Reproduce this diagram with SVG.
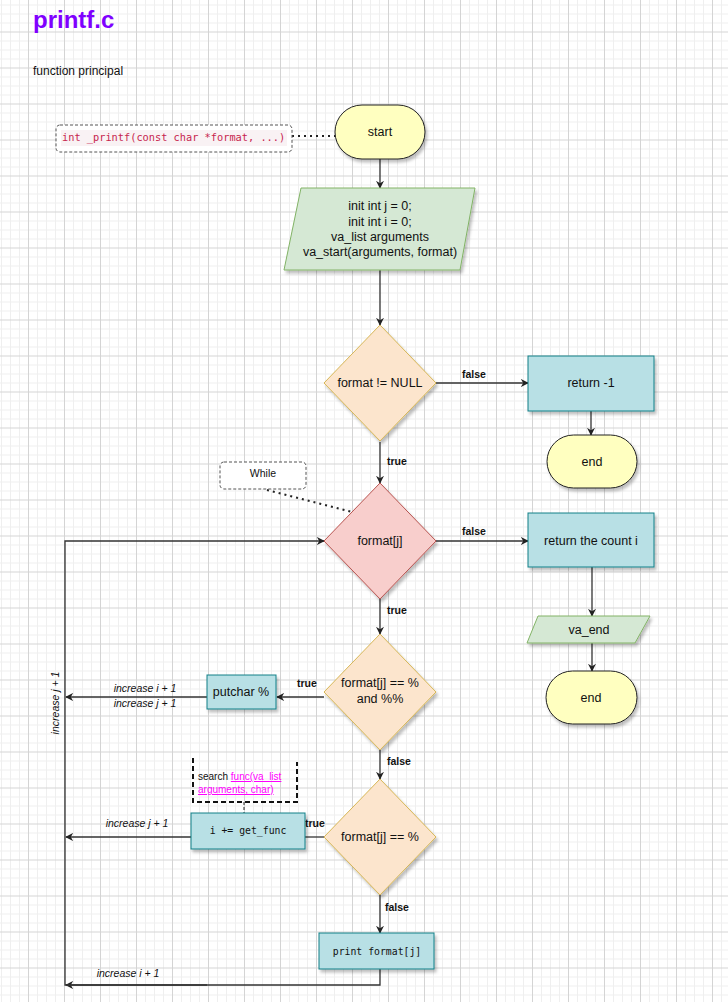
<svg xmlns="http://www.w3.org/2000/svg" width="728" height="1002" viewBox="0 0 728 1002">
<defs>
<pattern id="grid" x="28" y="31.5" width="36" height="36" patternUnits="userSpaceOnUse">
<path d="M9.5,0V36M18.5,0V36M27.5,0V36M0,9.5H36M0,18.5H36M0,27.5H36" stroke="#efefef" stroke-width="1" fill="none"/>
<path d="M0.5,0V36M0,0.5H36" stroke="#d4d4d4" stroke-width="1" fill="none"/>
</pattern>
<marker id="arr" viewBox="0 0 10 10" refX="9" refY="5" markerWidth="8" markerHeight="8" markerUnits="userSpaceOnUse" orient="auto">
<path d="M0,0 L10,5 L0,10 L3,5 z" fill="#222"/>
</marker>
<filter id="sh" x="-20%" y="-20%" width="150%" height="150%">
<feDropShadow dx="2" dy="3" stdDeviation="1.5" flood-color="#000" flood-opacity="0.25"/>
</filter>
<style>
text{font-family:"Liberation Sans",Arial,sans-serif;fill:#111;}
.lbl{font-size:12.5px;text-anchor:middle;}
.mono{font-family:"DejaVu Sans Mono","Liberation Mono",monospace;}
.b{font-size:10.5px;font-weight:bold;}
.it{font-size:10.5px;font-style:italic;}
.edge{stroke:#333;stroke-width:1.3;fill:none;}
.term{fill:#ffffc0;stroke:#222;stroke-width:1;filter:url(#sh);}
.proc{fill:#b8e0e5;stroke:#0e8088;stroke-width:1;filter:url(#sh);}
.io{fill:#d5e8d4;stroke:#82b366;stroke-width:1;filter:url(#sh);}
.dec{fill:#fce5cd;stroke:#d6b656;stroke-width:1;filter:url(#sh);}
.note{fill:#fff;stroke:#555;stroke-width:1;stroke-dasharray:3 2;}
</style>
</defs>
<rect width="728" height="1002" fill="#fff"/>
<rect width="728" height="1002" fill="url(#grid)"/>

<g id="title">
<text x="33" y="28" style="font-size:24px;font-weight:bold;fill:#7f00ff">printf.c</text>
<text x="33" y="75" style="font-size:12px">function principal</text>
</g>

<g id="connectors">
<line class="edge" x1="380" y1="159" x2="380" y2="188" marker-end="url(#arr)"/>
<line class="edge" x1="380" y1="270" x2="380" y2="325" marker-end="url(#arr)"/>
<line class="edge" x1="436" y1="383" x2="528" y2="383" marker-end="url(#arr)"/>
<line class="edge" x1="591" y1="411" x2="591" y2="435" marker-end="url(#arr)"/>
<line class="edge" x1="380" y1="442" x2="380" y2="483" marker-end="url(#arr)"/>
<line class="edge" x1="436" y1="541" x2="528" y2="541" marker-end="url(#arr)"/>
<line class="edge" x1="592" y1="567" x2="592" y2="616" marker-end="url(#arr)"/>
<line class="edge" x1="592" y1="643" x2="592" y2="671" marker-end="url(#arr)"/>
<line class="edge" x1="380" y1="599" x2="380" y2="634" marker-end="url(#arr)"/>
<line class="edge" x1="324" y1="697" x2="277" y2="697" marker-end="url(#arr)"/>
<line class="edge" x1="207" y1="697" x2="66" y2="697" marker-end="url(#arr)"/>
<line class="edge" x1="380" y1="750" x2="380" y2="779" marker-end="url(#arr)"/>
<line class="edge" x1="324" y1="837" x2="305" y2="837"/>
<line class="edge" x1="191" y1="837" x2="66" y2="837" marker-end="url(#arr)"/>
<line class="edge" x1="380" y1="895" x2="380" y2="933" marker-end="url(#arr)"/>
<polyline class="edge" points="380,969 380,985 66,985" marker-end="url(#arr)"/>
<polyline class="edge" points="207,985 65,985 65,541 324,541" marker-end="url(#arr)"/>
<line x1="292" y1="136" x2="335" y2="136" stroke="#222" stroke-width="2" stroke-dasharray="2 4"/>
<line x1="267" y1="490" x2="352" y2="512" stroke="#222" stroke-width="2" stroke-dasharray="2 4"/>
<line x1="244" y1="802" x2="244" y2="813" stroke="#222" stroke-width="1" stroke-dasharray="3 2"/>
<text class="b" x="462" y="378">false</text>
<text class="b" x="387" y="465">true</text>
<text class="b" x="462" y="535">false</text>
<text class="b" x="387" y="614">true</text>
<text class="b" x="297" y="687">true</text>
<text class="b" x="387" y="765">false</text>
<text class="b" x="305" y="827">true</text>
<text class="b" x="385" y="911">false</text>
<text class="it" x="145" y="692" text-anchor="middle">increase i + 1</text>
<text class="it" x="145" y="707" text-anchor="middle">increase j + 1</text>
<text class="it" x="137" y="827" text-anchor="middle">increase j + 1</text>
<text class="it" x="128" y="977" text-anchor="middle">increase i + 1</text>
<text class="it" x="0" y="0" text-anchor="middle" transform="translate(59,703) rotate(-90)">increase j + 1</text>
</g>

<g id="proto">
<rect x="56" y="125" width="236" height="27" rx="4" class="note"/>
<rect x="61" y="130" width="226" height="16" fill="#f9f2f4"/>
<text class="mono" x="62" y="141" style="font-size:10.3px;fill:#c7254e">int _printf(const char *format, ...)</text>
</g>

<g id="start">
<rect x="335" y="105" width="90" height="54" rx="27" class="term"/>
<text class="lbl" x="380" y="136">start</text>
</g>

<g id="init">
<polygon points="301,188 475,188 460,270 284,270" class="io"/>
<text class="lbl" x="380" y="210">init int j = 0;</text>
<text class="lbl" x="380" y="226">init int i = 0;</text>
<text class="lbl" x="380" y="241">va_list arguments</text>
<text class="lbl" x="380" y="256">va_start(arguments, format)</text>
</g>

<g id="check_null">
<polygon points="380,325 436,383 380,441 324,383" class="dec"/>
<text class="lbl" x="380" y="387">format != NULL</text>
</g>

<g id="return_minus1">
<rect x="528" y="356" width="126" height="55" class="proc"/>
<text class="lbl" x="591" y="387">return -1</text>
</g>

<g id="end1">
<rect x="547" y="435" width="90" height="53" rx="26.5" class="term"/>
<text class="lbl" x="592" y="466">end</text>
</g>

<g id="while_note">
<rect x="220" y="462" width="86" height="27" rx="4" class="note"/>
<text x="263" y="477" style="font-size:10.5px;text-anchor:middle">While</text>
</g>

<g id="loop">
<polygon points="380,483 436,541 380,599 324,541" style="fill:#f8cecc;stroke:#b85450;stroke-width:1;filter:url(#sh)"/>
<text class="lbl" x="380" y="545">format[j]</text>
</g>

<g id="return_count">
<rect x="528" y="513" width="126" height="54" class="proc"/>
<text class="lbl" x="591" y="545">return the count i</text>
</g>

<g id="va_end">
<polygon points="538,616 650,616 635,643 527,643" class="io"/>
<text class="lbl" x="589" y="634">va_end</text>
</g>

<g id="end2">
<rect x="546" y="671" width="91" height="53" rx="26.5" class="term"/>
<text class="lbl" x="591" y="702">end</text>
</g>

<g id="check_percent2">
<polygon points="380,634 436,692 380,750 324,692" class="dec"/>
<text class="lbl" x="380" y="687">format[j] == %</text>
<text class="lbl" x="380" y="703">and %%</text>
</g>

<g id="putchar">
<rect x="207" y="675" width="69" height="34" class="proc"/>
<text class="lbl" x="241" y="696">putchar %</text>
</g>

<g id="check_percent">
<polygon points="380,779 436,837 380,895 324,837" class="dec"/>
<text class="lbl" x="380" y="841">format[j] == %</text>
</g>

<g id="search_note">
<path d="M193,758V802H297V762" fill="none" stroke="#111" stroke-width="2" stroke-dasharray="5 3"/>
<text x="198" y="780" style="font-size:10px">search <tspan style="fill:#ff00ff;text-decoration:underline">func(va_list</tspan></text>
<text x="198" y="793" style="font-size:10px;fill:#ff00ff;text-decoration:underline">arguments, char)</text>
</g>

<g id="get_func">
<rect x="191" y="813" width="114" height="36" class="proc"/>
<text class="mono" x="248" y="834" style="font-size:9.8px;text-anchor:middle">i += get_func</text>
</g>

<g id="print">
<rect x="319" y="933" width="115" height="36" class="proc"/>
<text class="mono" x="377" y="955" style="font-size:9.8px;text-anchor:middle">print format[j]</text>
</g>
</svg>
